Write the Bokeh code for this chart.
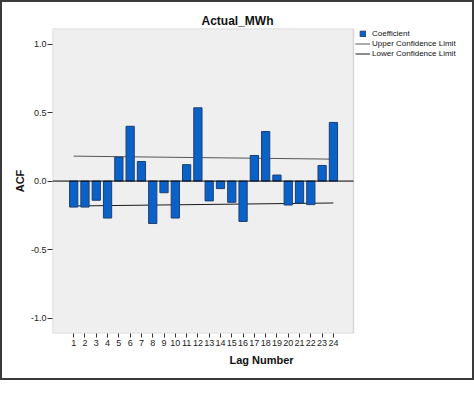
from bokeh.plotting import figure
from bokeh.models import (Range1d, Legend, LegendItem, FixedTicker,
                          PrintfTickFormatter, BoxAnnotation)
from bokeh.embed import file_html
from bokeh.resources import INLINE

# ---- data ----
lags = list(range(1, 25))
acf = [-0.19, -0.19, -0.14, -0.27, 0.175, 0.40, 0.143, -0.31, -0.085, -0.27,
       0.12, 0.535, -0.145, -0.055, -0.155, -0.295, 0.187, 0.362, 0.044,
       -0.175, -0.16, -0.172, 0.114, 0.428]
limit_lags = [1, 24]
upper_limit = [0.182, 0.160]
lower_limit = [-0.182, -0.160]
y_ticks = [-1.0, -0.5, 0.0, 0.5, 1.0]
title_text = "Actual_MWh"
x_label = "Lag Number"
y_label = "ACF"

# axis extent of the plotting area (SPSS style)
x_lo, x_hi = -0.876, 25.78
y_lo, y_hi = -1.113, 1.114
x_canvas_hi = 36.14   # frame extended to the right to hold the legend

FONT = "Liberation Sans"
BAR_FILL = "#0a62c9"
BAR_LINE = "#1e3f73"

p = figure(frame_width=418, frame_height=305,
           x_range=Range1d(x_lo, x_canvas_hi), y_range=Range1d(y_lo, y_hi),
           output_backend="svg", toolbar_location=None,
           min_border_left=50, min_border_top=26, min_border_right=2,
           min_border_bottom=45)
p.background_fill_color = "white"
p.border_fill_color = "white"
p.outline_line_color = None
p.grid.visible = False

p.add_layout(BoxAnnotation(left=x_lo, right=x_hi, bottom=y_lo, top=y_hi,
                           fill_color="#efefef", fill_alpha=1,
                           line_color="#8a8a8a", line_width=1.5,
                           level="underlay"))

p.title.text = title_text
p.title.align = "left"
p.title.offset = 149
p.title.standoff = 1
p.title.text_font = FONT
p.title.text_font_size = "12px"
p.title.text_font_style = "bold"
p.title.text_color = "#111111"

up = p.line(limit_lags, upper_limit, line_color="#555555", line_width=1)
lo = p.line(limit_lags, lower_limit, line_color="#1a1a1a", line_width=1)
bars = p.vbar(x=lags, top=acf, bottom=0, width=0.73, fill_color=BAR_FILL,
              line_color=BAR_LINE, line_width=1)
p.segment(x0=x_lo, x1=x_hi, y0=0, y1=0, line_color="black", line_width=1)

# axes
xa = p.xaxis[0]
xa.ticker = FixedTicker(ticks=lags)
xa.axis_line_color = None
xa.major_tick_in = 0
xa.major_tick_out = 4
xa.major_tick_line_color = "#333333"
xa.minor_tick_line_color = None
xa.major_label_text_font = FONT
xa.major_label_text_font_size = "9px"
xa.major_label_text_color = "#222222"
xa.major_label_standoff = 2
xa.axis_label = x_label
xa.axis_label_text_font = FONT
xa.axis_label_text_font_size = "11px"
xa.axis_label_text_font_style = "bold"
xa.axis_label_text_color = "#111111"
xa.axis_label_standoff = 5

ya = p.yaxis[0]
ya.ticker = FixedTicker(ticks=y_ticks)
ya.formatter = PrintfTickFormatter(format="%.1f")
ya.axis_line_color = None
ya.major_tick_in = 0
ya.major_tick_out = 5
ya.major_tick_line_color = "#333333"
ya.minor_tick_line_color = None
ya.major_label_text_font = FONT
ya.major_label_text_font_size = "9px"
ya.major_label_text_color = "#222222"
ya.major_label_standoff = 1
ya.axis_label = y_label
ya.axis_label_text_font = FONT
ya.axis_label_text_font_size = "11px"
ya.axis_label_text_font_style = "bold"
ya.axis_label_text_color = "#111111"
ya.axis_label_standoff = 2

common = dict(label_text_font=FONT, label_text_font_size="8px",
              label_text_color="#111111", spacing=0, padding=0, margin=0,
              label_height=10, border_line_color=None, background_fill_alpha=0)

leg_bar = Legend(items=[LegendItem(label="Coefficient", renderers=[bars])],
                 location=(307, 295), glyph_width=7, glyph_height=7,
                 label_standoff=6, **common)
leg_lines = Legend(items=[LegendItem(label="Upper Confidence Limit", renderers=[up]),
                          LegendItem(label="Lower Confidence Limit", renderers=[lo])],
                   location=(303, 275), glyph_width=15, glyph_height=7,
                   label_standoff=2, **common)
p.add_layout(leg_bar)
p.add_layout(leg_lines)

p.styles = {"border": "2px solid #3a3a3a"}

open("out.html", "w").write(file_html(p, INLINE))
